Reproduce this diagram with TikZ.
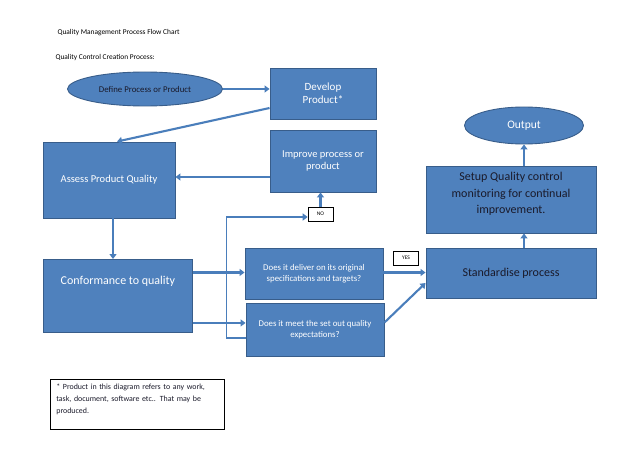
\documentclass[tikz,border=0pt]{standalone}
\usepackage{fontspec}
\setmainfont{Carlito}
\usetikzlibrary{shapes.geometric,arrows.meta}
\definecolor{boxblue}{HTML}{4F81BD}
\definecolor{boxedge}{HTML}{385D8A}
\definecolor{linkblue}{HTML}{4A7EBB}
\definecolor{darktext}{HTML}{1A1A2A}
\newcommand{\fs}[1]{\fontsize{#1}{1.2\dimexpr#1pt\relax}\selectfont}
\begin{document}
\begin{tikzpicture}[x=1pt,y=-1pt,
  procbox/.style={draw=boxedge,fill=boxblue,line width=0.9pt,text=white,align=center,inner sep=0pt},
  endnode/.style={ellipse,draw=boxedge,fill=boxblue,line width=0.9pt,align=center,inner sep=0pt},
  answer/.style={draw,line width=0.6pt,fill=white,inner sep=0pt,minimum width=25pt,minimum height=14pt,font=\fs{5.5}},
  flow/.style={draw=linkblue,line width=2.1pt,-{Triangle[length=5pt,width=7pt]}}]
 \useasboundingbox[fill=white] (0,0) rectangle (638,452);
 \node[anchor=west,font=\fs{7.4}] (title) at (54,33) {Quality Management Process Flow Chart};
 \node[anchor=west,font=\fs{7.4}] (subtitle) at (52,58) {Quality Control Creation Process:};

 \node[endnode,minimum width=155pt,minimum height=34pt,text=darktext,font=\fs{8.8}] (define) at (145,89) {Define Process or Product};
 \node[procbox,minimum width=106pt,minimum height=51pt,font=\fs{11}] (develop) at (323,93.5) {Develop\\Product*};
 \node[procbox,minimum width=132pt,minimum height=76pt,font=\fs{10.5}] (assess) at (109,180) {Assess Product Quality};
 \node[procbox,minimum width=106pt,minimum height=62pt,font=\fs{10.5}] (improve) at (323,161) {Improve process or\\product};
 \node[procbox,anchor=north west,minimum width=149pt,text height=25pt,text depth=48pt,font=\fs{12}] (conform) at (43,259) {Conformance to quality};
 \node[procbox,minimum width=138pt,minimum height=51pt,font=\fs{8.8}] (deliver) at (314,273.5) {Does it deliver on its original\\specifications and targets?};
 \node[procbox,minimum width=138pt,minimum height=53pt,font=\fs{8.8}] (meet) at (315,329.5) {Does it meet the set out quality\\expectations?};
 \node[procbox,minimum width=170pt,minimum height=50pt,text=darktext,font=\fs{12}] (standard) at (511,273) {Standardise process};
 \node[procbox,minimum width=170pt,minimum height=67pt,text=darktext,font=\fontsize{12}{16.5}\selectfont] (setup) at (511,199.5) {Setup Quality control\\monitoring for continual\\improvement.\\[-4pt]};
 \node[endnode,minimum width=119pt,minimum height=37pt,text=white,font=\fs{11.5}] (output) at (524,125.5) {Output};
 \node[answer] (no) at (320.5,214) {NO};
 \node[answer] (yes) at (406,258) {YES};
 \node[draw,line width=0.8pt,anchor=north west,text width=162pt,inner xsep=6pt,inner ysep=0pt,text height=10pt,text depth=40pt,align=left,text=darktext,font=\fontsize{7.9}{12}\selectfont] (note) at (50,379) {* Product in this diagram refers to any work,\\task, document, software etc.. That may be\\produced.};

 \path[flow] (define.east) -- (develop.west |- define.east);
 \path[flow] ([yshift=-14.5pt]develop.west) -- ([xshift=8pt]assess.north);
 \path[flow] ([yshift=-16pt]improve.west) -- ([yshift=-16pt]improve.west -| assess.east);
 \path[flow] (no.north) -- (no.north |- improve.south);
 \path[flow,line width=1.7pt] ([yshift=-8.5pt]meet.west) -- ++(-19,0) |- ([yshift=-3pt]no.west);
 \path[flow] ([xshift=4pt]assess.south) -- ([xshift=4pt]assess.south |- conform.north);
 \path[flow] ([yshift=23.5pt]conform.east) -- ([yshift=23.5pt]conform.east -| deliver.west);
 \path[flow] ([yshift=-27pt]conform.east) -- ([yshift=-27pt]conform.east -| meet.west);
 \path[flow] ([yshift=1pt]deliver.east) -- ([yshift=1pt]deliver.east -| standard.west);
 \path[flow] ([yshift=7pt]meet.east) -- ([yshift=-10pt]standard.west);
 \path[flow] (standard.north -| output) -- (setup.south -| output);
 \path[flow] (setup.north -| output) -- (output.south);
\end{tikzpicture}
\end{document}
